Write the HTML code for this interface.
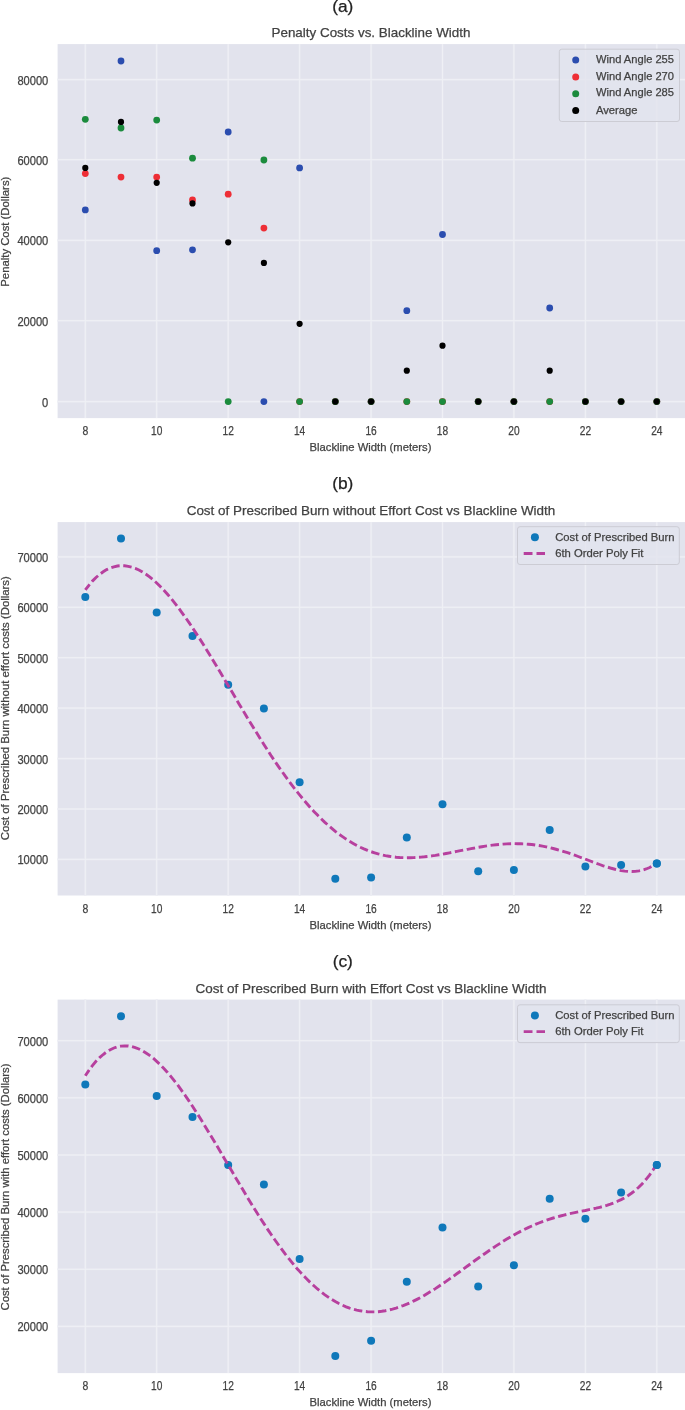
<!DOCTYPE html>
<html><head><meta charset="utf-8"><title>Figure</title>
<style>
html,body{margin:0;padding:0;background:#fff;}
body{width:685px;height:1410px;overflow:hidden;}
svg{display:block;font-family:"Liberation Sans",Arial,sans-serif;}
</style></head><body>
<svg width="685" height="1410" viewBox="0 0 685 1410">
<rect width="685" height="1410" fill="#fff"/>
<rect x="57.6" y="44.1" width="627.4" height="374.0" fill="#E2E3ED"/>
<g stroke="#E7E8F0" stroke-width="2.1">
<line x1="85.3" y1="44.1" x2="85.3" y2="418.1"/>
<line x1="156.7" y1="44.1" x2="156.7" y2="418.1"/>
<line x1="228.2" y1="44.1" x2="228.2" y2="418.1"/>
<line x1="299.6" y1="44.1" x2="299.6" y2="418.1"/>
<line x1="371.1" y1="44.1" x2="371.1" y2="418.1"/>
<line x1="442.5" y1="44.1" x2="442.5" y2="418.1"/>
<line x1="513.9" y1="44.1" x2="513.9" y2="418.1"/>
<line x1="585.4" y1="44.1" x2="585.4" y2="418.1"/>
<line x1="656.8" y1="44.1" x2="656.8" y2="418.1"/>
<line x1="57.6" y1="401.6" x2="685.0" y2="401.6"/>
<line x1="57.6" y1="320.7" x2="685.0" y2="320.7"/>
<line x1="57.6" y1="240.4" x2="685.0" y2="240.4"/>
<line x1="57.6" y1="159.7" x2="685.0" y2="159.7"/>
<line x1="57.6" y1="79.6" x2="685.0" y2="79.6"/>
</g>
<g stroke="#EFF0F5" stroke-width="1.0">
<line x1="85.3" y1="44.1" x2="85.3" y2="418.1"/>
<line x1="156.7" y1="44.1" x2="156.7" y2="418.1"/>
<line x1="228.2" y1="44.1" x2="228.2" y2="418.1"/>
<line x1="299.6" y1="44.1" x2="299.6" y2="418.1"/>
<line x1="371.1" y1="44.1" x2="371.1" y2="418.1"/>
<line x1="442.5" y1="44.1" x2="442.5" y2="418.1"/>
<line x1="513.9" y1="44.1" x2="513.9" y2="418.1"/>
<line x1="585.4" y1="44.1" x2="585.4" y2="418.1"/>
<line x1="656.8" y1="44.1" x2="656.8" y2="418.1"/>
<line x1="57.6" y1="401.6" x2="685.0" y2="401.6"/>
<line x1="57.6" y1="320.7" x2="685.0" y2="320.7"/>
<line x1="57.6" y1="240.4" x2="685.0" y2="240.4"/>
<line x1="57.6" y1="159.7" x2="685.0" y2="159.7"/>
<line x1="57.6" y1="79.6" x2="685.0" y2="79.6"/>
</g>
<text x="85.3" y="434.7" font-size="12.2" text-anchor="middle" fill="#424242" stroke="#424242" stroke-width="0.25" textLength="5.8" lengthAdjust="spacingAndGlyphs">8</text>
<text x="156.7" y="434.7" font-size="12.2" text-anchor="middle" fill="#424242" stroke="#424242" stroke-width="0.25" textLength="11.3" lengthAdjust="spacingAndGlyphs">10</text>
<text x="228.2" y="434.7" font-size="12.2" text-anchor="middle" fill="#424242" stroke="#424242" stroke-width="0.25" textLength="11.3" lengthAdjust="spacingAndGlyphs">12</text>
<text x="299.6" y="434.7" font-size="12.2" text-anchor="middle" fill="#424242" stroke="#424242" stroke-width="0.25" textLength="11.3" lengthAdjust="spacingAndGlyphs">14</text>
<text x="371.1" y="434.7" font-size="12.2" text-anchor="middle" fill="#424242" stroke="#424242" stroke-width="0.25" textLength="11.3" lengthAdjust="spacingAndGlyphs">16</text>
<text x="442.5" y="434.7" font-size="12.2" text-anchor="middle" fill="#424242" stroke="#424242" stroke-width="0.25" textLength="11.3" lengthAdjust="spacingAndGlyphs">18</text>
<text x="513.9" y="434.7" font-size="12.2" text-anchor="middle" fill="#424242" stroke="#424242" stroke-width="0.25" textLength="11.3" lengthAdjust="spacingAndGlyphs">20</text>
<text x="585.4" y="434.7" font-size="12.2" text-anchor="middle" fill="#424242" stroke="#424242" stroke-width="0.25" textLength="11.3" lengthAdjust="spacingAndGlyphs">22</text>
<text x="656.8" y="434.7" font-size="12.2" text-anchor="middle" fill="#424242" stroke="#424242" stroke-width="0.25" textLength="11.3" lengthAdjust="spacingAndGlyphs">24</text>
<text x="48.3" y="406.5" font-size="12.2" text-anchor="end" fill="#424242" stroke="#424242" stroke-width="0.25" textLength="6.2" lengthAdjust="spacingAndGlyphs">0</text>
<text x="48.3" y="325.6" font-size="12.2" text-anchor="end" fill="#424242" stroke="#424242" stroke-width="0.25" textLength="30.9" lengthAdjust="spacingAndGlyphs">20000</text>
<text x="48.3" y="245.3" font-size="12.2" text-anchor="end" fill="#424242" stroke="#424242" stroke-width="0.25" textLength="30.9" lengthAdjust="spacingAndGlyphs">40000</text>
<text x="48.3" y="164.6" font-size="12.2" text-anchor="end" fill="#424242" stroke="#424242" stroke-width="0.25" textLength="30.9" lengthAdjust="spacingAndGlyphs">60000</text>
<text x="48.3" y="84.5" font-size="12.2" text-anchor="end" fill="#424242" stroke="#424242" stroke-width="0.25" textLength="30.9" lengthAdjust="spacingAndGlyphs">80000</text>
<text x="371.0" y="36.9" font-size="13.45" text-anchor="middle" fill="#424242" stroke="#424242" stroke-width="0.25" textLength="199.0" lengthAdjust="spacingAndGlyphs">Penalty Costs vs. Blackline Width</text>
<text x="370.5" y="450.7" font-size="11.3" text-anchor="middle" fill="#424242" stroke="#424242" stroke-width="0.25" textLength="122.0" lengthAdjust="spacingAndGlyphs">Blackline Width (meters)</text>
<text x="9.3" y="231.7" font-size="11.3" text-anchor="middle" fill="#424242" stroke="#424242" stroke-width="0.25" textLength="110.0" lengthAdjust="spacingAndGlyphs" transform="rotate(-90 9.3 231.7)">Penalty Cost (Dollars)</text>
<text x="342.8" y="11.8" font-size="17.3" text-anchor="middle" fill="#222" stroke="#222" stroke-width="0.25">(a)</text>
<g fill="#2B4DAF"><circle cx="85.3" cy="209.9" r="3.4"/><circle cx="121.0" cy="61.0" r="3.4"/><circle cx="156.7" cy="250.7" r="3.4"/><circle cx="192.5" cy="249.8" r="3.4"/><circle cx="228.2" cy="132.0" r="3.4"/><circle cx="263.9" cy="401.6" r="3.4"/><circle cx="299.6" cy="167.9" r="3.4"/><circle cx="335.3" cy="401.6" r="3.4"/><circle cx="371.1" cy="401.6" r="3.4"/><circle cx="406.8" cy="310.7" r="3.4"/><circle cx="442.5" cy="234.5" r="3.4"/><circle cx="478.2" cy="401.6" r="3.4"/><circle cx="513.9" cy="401.6" r="3.4"/><circle cx="549.7" cy="308.0" r="3.4"/><circle cx="585.4" cy="401.6" r="3.4"/><circle cx="621.1" cy="401.6" r="3.4"/><circle cx="656.8" cy="401.6" r="3.4"/></g>
<g fill="#EE2E36"><circle cx="85.3" cy="173.6" r="3.4"/><circle cx="121.0" cy="177.1" r="3.4"/><circle cx="156.7" cy="177.1" r="3.4"/><circle cx="192.5" cy="199.9" r="3.4"/><circle cx="228.2" cy="194.2" r="3.4"/><circle cx="263.9" cy="228.1" r="3.4"/><circle cx="299.6" cy="401.6" r="3.4"/><circle cx="335.3" cy="401.6" r="3.4"/><circle cx="371.1" cy="401.6" r="3.4"/><circle cx="406.8" cy="401.6" r="3.4"/><circle cx="442.5" cy="401.6" r="3.4"/><circle cx="478.2" cy="401.6" r="3.4"/><circle cx="513.9" cy="401.6" r="3.4"/><circle cx="549.7" cy="401.6" r="3.4"/><circle cx="585.4" cy="401.6" r="3.4"/><circle cx="621.1" cy="401.6" r="3.4"/><circle cx="656.8" cy="401.6" r="3.4"/></g>
<g fill="#1B8B3D"><circle cx="85.3" cy="119.3" r="3.4"/><circle cx="121.0" cy="128.0" r="3.4"/><circle cx="156.7" cy="120.1" r="3.4"/><circle cx="192.5" cy="158.2" r="3.4"/><circle cx="228.2" cy="401.6" r="3.4"/><circle cx="263.9" cy="160.0" r="3.4"/><circle cx="299.6" cy="401.6" r="3.4"/><circle cx="335.3" cy="401.6" r="3.4"/><circle cx="371.1" cy="401.6" r="3.4"/><circle cx="406.8" cy="401.6" r="3.4"/><circle cx="442.5" cy="401.6" r="3.4"/><circle cx="478.2" cy="401.6" r="3.4"/><circle cx="513.9" cy="401.6" r="3.4"/><circle cx="549.7" cy="401.6" r="3.4"/><circle cx="585.4" cy="401.6" r="3.4"/><circle cx="621.1" cy="401.6" r="3.4"/><circle cx="656.8" cy="401.6" r="3.4"/></g>
<g fill="#000000"><circle cx="85.3" cy="167.9" r="3.1"/><circle cx="121.0" cy="121.9" r="3.1"/><circle cx="156.7" cy="182.8" r="3.1"/><circle cx="192.5" cy="203.4" r="3.1"/><circle cx="228.2" cy="242.3" r="3.1"/><circle cx="263.9" cy="262.9" r="3.1"/><circle cx="299.6" cy="323.8" r="3.1"/><circle cx="335.3" cy="401.6" r="3.1"/><circle cx="371.1" cy="401.6" r="3.1"/><circle cx="406.8" cy="370.7" r="3.1"/><circle cx="442.5" cy="345.7" r="3.1"/><circle cx="478.2" cy="401.6" r="3.1"/><circle cx="513.9" cy="401.6" r="3.1"/><circle cx="549.7" cy="370.7" r="3.1"/><circle cx="585.4" cy="401.6" r="3.1"/><circle cx="621.1" cy="401.6" r="3.1"/><circle cx="656.8" cy="401.6" r="3.1"/></g>
<rect x="559.3" y="49.2" width="120.2" height="72.3" rx="2.5" fill="#E2E3ED" fill-opacity="0.8" stroke="#CCCCD4" stroke-width="1"/>
<circle cx="575.7" cy="60.1" r="3.5" fill="#2B4DAF"/>
<text x="596.0" y="63.0" font-size="11.2" text-anchor="start" fill="#424242" stroke="#424242" stroke-width="0.25" textLength="78.0" lengthAdjust="spacingAndGlyphs">Wind Angle 255</text>
<circle cx="575.7" cy="76.9" r="3.5" fill="#EE2E36"/>
<text x="596.0" y="79.7" font-size="11.2" text-anchor="start" fill="#424242" stroke="#424242" stroke-width="0.25" textLength="78.0" lengthAdjust="spacingAndGlyphs">Wind Angle 270</text>
<circle cx="575.7" cy="93.7" r="3.5" fill="#1B8B3D"/>
<text x="596.0" y="96.4" font-size="11.2" text-anchor="start" fill="#424242" stroke="#424242" stroke-width="0.25" textLength="78.0" lengthAdjust="spacingAndGlyphs">Wind Angle 285</text>
<circle cx="575.7" cy="110.5" r="3.5" fill="#000000"/>
<text x="596.0" y="113.6" font-size="11.2" text-anchor="start" fill="#424242" stroke="#424242" stroke-width="0.25" textLength="41.5" lengthAdjust="spacingAndGlyphs">Average</text>
<rect x="57.6" y="522.1" width="627.4" height="373.4" fill="#E2E3ED"/>
<g stroke="#E7E8F0" stroke-width="2.1">
<line x1="85.3" y1="522.1" x2="85.3" y2="895.5"/>
<line x1="156.7" y1="522.1" x2="156.7" y2="895.5"/>
<line x1="228.2" y1="522.1" x2="228.2" y2="895.5"/>
<line x1="299.6" y1="522.1" x2="299.6" y2="895.5"/>
<line x1="371.1" y1="522.1" x2="371.1" y2="895.5"/>
<line x1="442.5" y1="522.1" x2="442.5" y2="895.5"/>
<line x1="513.9" y1="522.1" x2="513.9" y2="895.5"/>
<line x1="585.4" y1="522.1" x2="585.4" y2="895.5"/>
<line x1="656.8" y1="522.1" x2="656.8" y2="895.5"/>
<line x1="57.6" y1="859.4" x2="685.0" y2="859.4"/>
<line x1="57.6" y1="809.0" x2="685.0" y2="809.0"/>
<line x1="57.6" y1="758.6" x2="685.0" y2="758.6"/>
<line x1="57.6" y1="708.1" x2="685.0" y2="708.1"/>
<line x1="57.6" y1="657.7" x2="685.0" y2="657.7"/>
<line x1="57.6" y1="607.3" x2="685.0" y2="607.3"/>
<line x1="57.6" y1="556.9" x2="685.0" y2="556.9"/>
</g>
<g stroke="#EFF0F5" stroke-width="1.0">
<line x1="85.3" y1="522.1" x2="85.3" y2="895.5"/>
<line x1="156.7" y1="522.1" x2="156.7" y2="895.5"/>
<line x1="228.2" y1="522.1" x2="228.2" y2="895.5"/>
<line x1="299.6" y1="522.1" x2="299.6" y2="895.5"/>
<line x1="371.1" y1="522.1" x2="371.1" y2="895.5"/>
<line x1="442.5" y1="522.1" x2="442.5" y2="895.5"/>
<line x1="513.9" y1="522.1" x2="513.9" y2="895.5"/>
<line x1="585.4" y1="522.1" x2="585.4" y2="895.5"/>
<line x1="656.8" y1="522.1" x2="656.8" y2="895.5"/>
<line x1="57.6" y1="859.4" x2="685.0" y2="859.4"/>
<line x1="57.6" y1="809.0" x2="685.0" y2="809.0"/>
<line x1="57.6" y1="758.6" x2="685.0" y2="758.6"/>
<line x1="57.6" y1="708.1" x2="685.0" y2="708.1"/>
<line x1="57.6" y1="657.7" x2="685.0" y2="657.7"/>
<line x1="57.6" y1="607.3" x2="685.0" y2="607.3"/>
<line x1="57.6" y1="556.9" x2="685.0" y2="556.9"/>
</g>
<text x="85.3" y="912.5" font-size="12.2" text-anchor="middle" fill="#424242" stroke="#424242" stroke-width="0.25" textLength="5.8" lengthAdjust="spacingAndGlyphs">8</text>
<text x="156.7" y="912.5" font-size="12.2" text-anchor="middle" fill="#424242" stroke="#424242" stroke-width="0.25" textLength="11.3" lengthAdjust="spacingAndGlyphs">10</text>
<text x="228.2" y="912.5" font-size="12.2" text-anchor="middle" fill="#424242" stroke="#424242" stroke-width="0.25" textLength="11.3" lengthAdjust="spacingAndGlyphs">12</text>
<text x="299.6" y="912.5" font-size="12.2" text-anchor="middle" fill="#424242" stroke="#424242" stroke-width="0.25" textLength="11.3" lengthAdjust="spacingAndGlyphs">14</text>
<text x="371.1" y="912.5" font-size="12.2" text-anchor="middle" fill="#424242" stroke="#424242" stroke-width="0.25" textLength="11.3" lengthAdjust="spacingAndGlyphs">16</text>
<text x="442.5" y="912.5" font-size="12.2" text-anchor="middle" fill="#424242" stroke="#424242" stroke-width="0.25" textLength="11.3" lengthAdjust="spacingAndGlyphs">18</text>
<text x="513.9" y="912.5" font-size="12.2" text-anchor="middle" fill="#424242" stroke="#424242" stroke-width="0.25" textLength="11.3" lengthAdjust="spacingAndGlyphs">20</text>
<text x="585.4" y="912.5" font-size="12.2" text-anchor="middle" fill="#424242" stroke="#424242" stroke-width="0.25" textLength="11.3" lengthAdjust="spacingAndGlyphs">22</text>
<text x="656.8" y="912.5" font-size="12.2" text-anchor="middle" fill="#424242" stroke="#424242" stroke-width="0.25" textLength="11.3" lengthAdjust="spacingAndGlyphs">24</text>
<text x="48.3" y="864.3" font-size="12.2" text-anchor="end" fill="#424242" stroke="#424242" stroke-width="0.25" textLength="30.9" lengthAdjust="spacingAndGlyphs">10000</text>
<text x="48.3" y="813.9" font-size="12.2" text-anchor="end" fill="#424242" stroke="#424242" stroke-width="0.25" textLength="30.9" lengthAdjust="spacingAndGlyphs">20000</text>
<text x="48.3" y="763.5" font-size="12.2" text-anchor="end" fill="#424242" stroke="#424242" stroke-width="0.25" textLength="30.9" lengthAdjust="spacingAndGlyphs">30000</text>
<text x="48.3" y="713.0" font-size="12.2" text-anchor="end" fill="#424242" stroke="#424242" stroke-width="0.25" textLength="30.9" lengthAdjust="spacingAndGlyphs">40000</text>
<text x="48.3" y="662.6" font-size="12.2" text-anchor="end" fill="#424242" stroke="#424242" stroke-width="0.25" textLength="30.9" lengthAdjust="spacingAndGlyphs">50000</text>
<text x="48.3" y="612.2" font-size="12.2" text-anchor="end" fill="#424242" stroke="#424242" stroke-width="0.25" textLength="30.9" lengthAdjust="spacingAndGlyphs">60000</text>
<text x="48.3" y="561.8" font-size="12.2" text-anchor="end" fill="#424242" stroke="#424242" stroke-width="0.25" textLength="30.9" lengthAdjust="spacingAndGlyphs">70000</text>
<text x="371.0" y="515.2" font-size="13.45" text-anchor="middle" fill="#424242" stroke="#424242" stroke-width="0.25" textLength="368.6" lengthAdjust="spacingAndGlyphs">Cost of Prescribed Burn without Effort Cost vs Blackline Width</text>
<text x="370.5" y="928.5" font-size="11.3" text-anchor="middle" fill="#424242" stroke="#424242" stroke-width="0.25" textLength="122.0" lengthAdjust="spacingAndGlyphs">Blackline Width (meters)</text>
<text x="9.3" y="708.2" font-size="11.3" text-anchor="middle" fill="#424242" stroke="#424242" stroke-width="0.25" textLength="264.0" lengthAdjust="spacingAndGlyphs" transform="rotate(-90 9.3 708.2)">Cost of Prescribed Burn without effort costs (Dollars)</text>
<text x="342.8" y="489.4" font-size="17.3" text-anchor="middle" fill="#222" stroke="#222" stroke-width="0.25">(b)</text>
<g fill="#0F78BA"><circle cx="85.3" cy="597.1" r="4.0"/><circle cx="121.0" cy="538.4" r="4.0"/><circle cx="156.7" cy="612.4" r="4.0"/><circle cx="192.5" cy="636.1" r="4.0"/><circle cx="228.2" cy="684.7" r="4.0"/><circle cx="263.9" cy="708.6" r="4.0"/><circle cx="299.6" cy="782.3" r="4.0"/><circle cx="335.3" cy="878.7" r="4.0"/><circle cx="371.1" cy="877.4" r="4.0"/><circle cx="406.8" cy="837.5" r="4.0"/><circle cx="442.5" cy="804.2" r="4.0"/><circle cx="478.2" cy="871.2" r="4.0"/><circle cx="513.9" cy="869.9" r="4.0"/><circle cx="549.7" cy="830.1" r="4.0"/><circle cx="585.4" cy="866.4" r="4.0"/><circle cx="621.1" cy="865.0" r="4.0"/><circle cx="656.8" cy="863.5" r="4.0"/></g>
<path d="M85.3,589.9 L88.9,585.3 L92.4,581.1 L96.0,577.5 L99.6,574.4 L103.2,571.8 L106.7,569.6 L110.3,568.0 L113.9,566.8 L117.4,566.0 L121.0,565.7 L124.6,565.8 L128.2,566.3 L131.7,567.2 L135.3,568.4 L138.9,570.0 L142.5,572.0 L146.0,574.3 L149.6,576.9 L153.2,579.8 L156.7,583.0 L160.3,586.5 L163.9,590.2 L167.5,594.2 L171.0,598.4 L174.6,602.8 L178.2,607.5 L181.7,612.3 L185.3,617.3 L188.9,622.4 L192.5,627.7 L196.0,633.1 L199.6,638.6 L203.2,644.3 L206.7,650.0 L210.3,655.8 L213.9,661.7 L217.5,667.6 L221.0,673.6 L224.6,679.6 L228.2,685.6 L231.8,691.6 L235.3,697.6 L238.9,703.7 L242.5,709.6 L246.0,715.6 L249.6,721.5 L253.2,727.3 L256.8,733.1 L260.3,738.8 L263.9,744.5 L267.5,750.0 L271.0,755.5 L274.6,760.8 L278.2,766.1 L281.8,771.2 L285.3,776.2 L288.9,781.1 L292.5,785.9 L296.0,790.5 L299.6,794.9 L303.2,799.3 L306.8,803.5 L310.3,807.5 L313.9,811.4 L317.5,815.1 L321.1,818.7 L324.6,822.1 L328.2,825.3 L331.8,828.4 L335.3,831.3 L338.9,834.1 L342.5,836.6 L346.1,839.1 L349.6,841.3 L353.2,843.4 L356.8,845.4 L360.3,847.2 L363.9,848.8 L367.5,850.3 L371.1,851.7 L374.6,852.8 L378.2,853.9 L381.8,854.8 L385.3,855.6 L388.9,856.2 L392.5,856.8 L396.1,857.2 L399.6,857.5 L403.2,857.6 L406.8,857.7 L410.4,857.7 L413.9,857.6 L417.5,857.4 L421.1,857.1 L424.6,856.8 L428.2,856.4 L431.8,855.9 L435.4,855.4 L438.9,854.8 L442.5,854.2 L446.1,853.5 L449.6,852.8 L453.2,852.1 L456.8,851.4 L460.4,850.7 L463.9,850.0 L467.5,849.3 L471.1,848.6 L474.6,848.0 L478.2,847.3 L481.8,846.7 L485.4,846.1 L488.9,845.6 L492.5,845.1 L496.1,844.7 L499.7,844.4 L503.2,844.1 L506.8,843.9 L510.4,843.7 L513.9,843.6 L517.5,843.7 L521.1,843.8 L524.7,843.9 L528.2,844.2 L531.8,844.5 L535.4,845.0 L538.9,845.5 L542.5,846.1 L546.1,846.8 L549.7,847.6 L553.2,848.5 L556.8,849.5 L560.4,850.5 L563.9,851.6 L567.5,852.7 L571.1,853.9 L574.7,855.2 L578.2,856.5 L581.8,857.8 L585.4,859.2 L589.0,860.5 L592.5,861.9 L596.1,863.2 L599.7,864.5 L603.2,865.8 L606.8,866.9 L610.4,868.0 L614.0,869.0 L617.5,869.9 L621.1,870.6 L624.7,871.1 L628.2,871.4 L631.8,871.5 L635.4,871.4 L639.0,870.9 L642.5,870.1 L646.1,869.0 L649.7,867.5 L653.2,865.5 L656.8,863.1" fill="none" stroke="#B7409E" stroke-width="2.9" stroke-dasharray="8.5 3.6" stroke-dashoffset="1.5"/>
<circle cx="656.8" cy="863.5" r="4.0" fill="#0F78BA"/>
<rect x="517.5" y="526.7" width="161.8" height="37.8" rx="2.5" fill="#E2E3ED" fill-opacity="0.8" stroke="#CCCCD4" stroke-width="1"/>
<circle cx="534.9" cy="537.3" r="4.0" fill="#0F78BA"/>
<path d="M523.7,553.5 H545.0" stroke="#B7409E" stroke-width="2.9" stroke-dasharray="8.8 4" fill="none"/>
<text x="555.2" y="540.7" font-size="11.2" text-anchor="start" fill="#424242" stroke="#424242" stroke-width="0.25" textLength="119.4" lengthAdjust="spacingAndGlyphs">Cost of Prescribed Burn</text>
<text x="555.2" y="556.9" font-size="11.2" text-anchor="start" fill="#424242" stroke="#424242" stroke-width="0.25" textLength="88.3" lengthAdjust="spacingAndGlyphs">6th Order Poly Fit</text>
<rect x="57.6" y="999.6" width="627.4" height="373.5" fill="#E2E3ED"/>
<g stroke="#E7E8F0" stroke-width="2.1">
<line x1="85.3" y1="999.6" x2="85.3" y2="1373.1"/>
<line x1="156.7" y1="999.6" x2="156.7" y2="1373.1"/>
<line x1="228.2" y1="999.6" x2="228.2" y2="1373.1"/>
<line x1="299.6" y1="999.6" x2="299.6" y2="1373.1"/>
<line x1="371.1" y1="999.6" x2="371.1" y2="1373.1"/>
<line x1="442.5" y1="999.6" x2="442.5" y2="1373.1"/>
<line x1="513.9" y1="999.6" x2="513.9" y2="1373.1"/>
<line x1="585.4" y1="999.6" x2="585.4" y2="1373.1"/>
<line x1="656.8" y1="999.6" x2="656.8" y2="1373.1"/>
<line x1="57.6" y1="1326.4" x2="685.0" y2="1326.4"/>
<line x1="57.6" y1="1269.3" x2="685.0" y2="1269.3"/>
<line x1="57.6" y1="1212.1" x2="685.0" y2="1212.1"/>
<line x1="57.6" y1="1155.0" x2="685.0" y2="1155.0"/>
<line x1="57.6" y1="1097.8" x2="685.0" y2="1097.8"/>
<line x1="57.6" y1="1040.7" x2="685.0" y2="1040.7"/>
</g>
<g stroke="#EFF0F5" stroke-width="1.0">
<line x1="85.3" y1="999.6" x2="85.3" y2="1373.1"/>
<line x1="156.7" y1="999.6" x2="156.7" y2="1373.1"/>
<line x1="228.2" y1="999.6" x2="228.2" y2="1373.1"/>
<line x1="299.6" y1="999.6" x2="299.6" y2="1373.1"/>
<line x1="371.1" y1="999.6" x2="371.1" y2="1373.1"/>
<line x1="442.5" y1="999.6" x2="442.5" y2="1373.1"/>
<line x1="513.9" y1="999.6" x2="513.9" y2="1373.1"/>
<line x1="585.4" y1="999.6" x2="585.4" y2="1373.1"/>
<line x1="656.8" y1="999.6" x2="656.8" y2="1373.1"/>
<line x1="57.6" y1="1326.4" x2="685.0" y2="1326.4"/>
<line x1="57.6" y1="1269.3" x2="685.0" y2="1269.3"/>
<line x1="57.6" y1="1212.1" x2="685.0" y2="1212.1"/>
<line x1="57.6" y1="1155.0" x2="685.0" y2="1155.0"/>
<line x1="57.6" y1="1097.8" x2="685.0" y2="1097.8"/>
<line x1="57.6" y1="1040.7" x2="685.0" y2="1040.7"/>
</g>
<text x="85.3" y="1389.8" font-size="12.2" text-anchor="middle" fill="#424242" stroke="#424242" stroke-width="0.25" textLength="5.8" lengthAdjust="spacingAndGlyphs">8</text>
<text x="156.7" y="1389.8" font-size="12.2" text-anchor="middle" fill="#424242" stroke="#424242" stroke-width="0.25" textLength="11.3" lengthAdjust="spacingAndGlyphs">10</text>
<text x="228.2" y="1389.8" font-size="12.2" text-anchor="middle" fill="#424242" stroke="#424242" stroke-width="0.25" textLength="11.3" lengthAdjust="spacingAndGlyphs">12</text>
<text x="299.6" y="1389.8" font-size="12.2" text-anchor="middle" fill="#424242" stroke="#424242" stroke-width="0.25" textLength="11.3" lengthAdjust="spacingAndGlyphs">14</text>
<text x="371.1" y="1389.8" font-size="12.2" text-anchor="middle" fill="#424242" stroke="#424242" stroke-width="0.25" textLength="11.3" lengthAdjust="spacingAndGlyphs">16</text>
<text x="442.5" y="1389.8" font-size="12.2" text-anchor="middle" fill="#424242" stroke="#424242" stroke-width="0.25" textLength="11.3" lengthAdjust="spacingAndGlyphs">18</text>
<text x="513.9" y="1389.8" font-size="12.2" text-anchor="middle" fill="#424242" stroke="#424242" stroke-width="0.25" textLength="11.3" lengthAdjust="spacingAndGlyphs">20</text>
<text x="585.4" y="1389.8" font-size="12.2" text-anchor="middle" fill="#424242" stroke="#424242" stroke-width="0.25" textLength="11.3" lengthAdjust="spacingAndGlyphs">22</text>
<text x="656.8" y="1389.8" font-size="12.2" text-anchor="middle" fill="#424242" stroke="#424242" stroke-width="0.25" textLength="11.3" lengthAdjust="spacingAndGlyphs">24</text>
<text x="48.3" y="1331.3" font-size="12.2" text-anchor="end" fill="#424242" stroke="#424242" stroke-width="0.25" textLength="30.9" lengthAdjust="spacingAndGlyphs">20000</text>
<text x="48.3" y="1274.2" font-size="12.2" text-anchor="end" fill="#424242" stroke="#424242" stroke-width="0.25" textLength="30.9" lengthAdjust="spacingAndGlyphs">30000</text>
<text x="48.3" y="1217.0" font-size="12.2" text-anchor="end" fill="#424242" stroke="#424242" stroke-width="0.25" textLength="30.9" lengthAdjust="spacingAndGlyphs">40000</text>
<text x="48.3" y="1159.9" font-size="12.2" text-anchor="end" fill="#424242" stroke="#424242" stroke-width="0.25" textLength="30.9" lengthAdjust="spacingAndGlyphs">50000</text>
<text x="48.3" y="1102.7" font-size="12.2" text-anchor="end" fill="#424242" stroke="#424242" stroke-width="0.25" textLength="30.9" lengthAdjust="spacingAndGlyphs">60000</text>
<text x="48.3" y="1045.6" font-size="12.2" text-anchor="end" fill="#424242" stroke="#424242" stroke-width="0.25" textLength="30.9" lengthAdjust="spacingAndGlyphs">70000</text>
<text x="371.0" y="992.7" font-size="13.45" text-anchor="middle" fill="#424242" stroke="#424242" stroke-width="0.25" textLength="351.0" lengthAdjust="spacingAndGlyphs">Cost of Prescribed Burn with Effort Cost vs Blackline Width</text>
<text x="370.5" y="1405.8" font-size="11.3" text-anchor="middle" fill="#424242" stroke="#424242" stroke-width="0.25" textLength="122.0" lengthAdjust="spacingAndGlyphs">Blackline Width (meters)</text>
<text x="9.3" y="1187.0" font-size="11.3" text-anchor="middle" fill="#424242" stroke="#424242" stroke-width="0.25" textLength="247.0" lengthAdjust="spacingAndGlyphs" transform="rotate(-90 9.3 1187.0)">Cost of Prescribed Burn with effort costs (Dollars)</text>
<text x="342.8" y="967.4" font-size="17.3" text-anchor="middle" fill="#222" stroke="#222" stroke-width="0.25">(c)</text>
<g fill="#0F78BA"><circle cx="85.3" cy="1084.5" r="4.0"/><circle cx="121.0" cy="1016.2" r="4.0"/><circle cx="156.7" cy="1095.9" r="4.0"/><circle cx="192.5" cy="1116.9" r="4.0"/><circle cx="228.2" cy="1165.1" r="4.0"/><circle cx="263.9" cy="1184.5" r="4.0"/><circle cx="299.6" cy="1258.9" r="4.0"/><circle cx="335.3" cy="1356.1" r="4.0"/><circle cx="371.1" cy="1340.8" r="4.0"/><circle cx="406.8" cy="1281.7" r="4.0"/><circle cx="442.5" cy="1227.4" r="4.0"/><circle cx="478.2" cy="1286.5" r="4.0"/><circle cx="513.9" cy="1265.3" r="4.0"/><circle cx="549.7" cy="1198.8" r="4.0"/><circle cx="585.4" cy="1218.7" r="4.0"/><circle cx="621.1" cy="1192.4" r="4.0"/><circle cx="656.8" cy="1165.0" r="4.0"/></g>
<path d="M85.3,1075.8 L88.9,1070.4 L92.4,1065.6 L96.0,1061.3 L99.6,1057.6 L103.2,1054.5 L106.7,1051.8 L110.3,1049.7 L113.9,1048.0 L117.4,1046.8 L121.0,1046.1 L124.6,1045.9 L128.2,1046.0 L131.7,1046.6 L135.3,1047.6 L138.9,1049.0 L142.5,1050.8 L146.0,1053.0 L149.6,1055.4 L153.2,1058.2 L156.7,1061.4 L160.3,1064.8 L163.9,1068.5 L167.5,1072.4 L171.0,1076.6 L174.6,1081.1 L178.2,1085.7 L181.7,1090.6 L185.3,1095.6 L188.9,1100.8 L192.5,1106.2 L196.0,1111.7 L199.6,1117.3 L203.2,1123.1 L206.7,1128.9 L210.3,1134.8 L213.9,1140.7 L217.5,1146.8 L221.0,1152.8 L224.6,1158.9 L228.2,1165.0 L231.8,1171.0 L235.3,1177.1 L238.9,1183.1 L242.5,1189.1 L246.0,1195.1 L249.6,1201.0 L253.2,1206.8 L256.8,1212.5 L260.3,1218.1 L263.9,1223.6 L267.5,1229.1 L271.0,1234.3 L274.6,1239.5 L278.2,1244.5 L281.8,1249.4 L285.3,1254.1 L288.9,1258.7 L292.5,1263.1 L296.0,1267.4 L299.6,1271.4 L303.2,1275.3 L306.8,1279.0 L310.3,1282.5 L313.9,1285.8 L317.5,1289.0 L321.1,1291.9 L324.6,1294.6 L328.2,1297.1 L331.8,1299.5 L335.3,1301.6 L338.9,1303.5 L342.5,1305.2 L346.1,1306.8 L349.6,1308.1 L353.2,1309.2 L356.8,1310.1 L360.3,1310.8 L363.9,1311.4 L367.5,1311.7 L371.1,1311.9 L374.6,1311.9 L378.2,1311.7 L381.8,1311.3 L385.3,1310.7 L388.9,1310.0 L392.5,1309.1 L396.1,1308.1 L399.6,1306.9 L403.2,1305.6 L406.8,1304.2 L410.4,1302.6 L413.9,1300.9 L417.5,1299.1 L421.1,1297.2 L424.6,1295.2 L428.2,1293.0 L431.8,1290.9 L435.4,1288.6 L438.9,1286.2 L442.5,1283.8 L446.1,1281.4 L449.6,1278.9 L453.2,1276.4 L456.8,1273.8 L460.4,1271.2 L463.9,1268.6 L467.5,1266.0 L471.1,1263.4 L474.6,1260.8 L478.2,1258.3 L481.8,1255.7 L485.4,1253.2 L488.9,1250.7 L492.5,1248.3 L496.1,1245.9 L499.7,1243.6 L503.2,1241.3 L506.8,1239.1 L510.4,1237.0 L513.9,1235.0 L517.5,1233.0 L521.1,1231.1 L524.7,1229.3 L528.2,1227.6 L531.8,1226.0 L535.4,1224.4 L538.9,1223.0 L542.5,1221.6 L546.1,1220.3 L549.7,1219.1 L553.2,1218.0 L556.8,1217.0 L560.4,1216.0 L563.9,1215.1 L567.5,1214.2 L571.1,1213.4 L574.7,1212.6 L578.2,1211.9 L581.8,1211.2 L585.4,1210.5 L589.0,1209.7 L592.5,1209.0 L596.1,1208.2 L599.7,1207.3 L603.2,1206.4 L606.8,1205.3 L610.4,1204.1 L614.0,1202.8 L617.5,1201.3 L621.1,1199.6 L624.7,1197.7 L628.2,1195.5 L631.8,1193.0 L635.4,1190.2 L639.0,1187.0 L642.5,1183.4 L646.1,1179.3 L649.7,1174.8 L653.2,1169.7 L656.8,1164.1" fill="none" stroke="#B7409E" stroke-width="2.9" stroke-dasharray="8.5 3.6" stroke-dashoffset="1.5"/>
<circle cx="656.8" cy="1165.0" r="4.0" fill="#0F78BA"/>
<rect x="517.5" y="1004.8" width="161.8" height="37.8" rx="2.5" fill="#E2E3ED" fill-opacity="0.8" stroke="#CCCCD4" stroke-width="1"/>
<circle cx="534.9" cy="1015.4" r="4.0" fill="#0F78BA"/>
<path d="M523.7,1031.6 H545.0" stroke="#B7409E" stroke-width="2.9" stroke-dasharray="8.8 4" fill="none"/>
<text x="555.2" y="1018.8" font-size="11.2" text-anchor="start" fill="#424242" stroke="#424242" stroke-width="0.25" textLength="119.4" lengthAdjust="spacingAndGlyphs">Cost of Prescribed Burn</text>
<text x="555.2" y="1035.0" font-size="11.2" text-anchor="start" fill="#424242" stroke="#424242" stroke-width="0.25" textLength="88.3" lengthAdjust="spacingAndGlyphs">6th Order Poly Fit</text>
</svg>
</body></html>
